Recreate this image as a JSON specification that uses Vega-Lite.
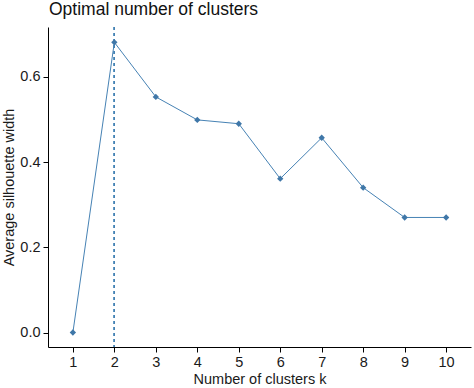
{
  "$schema": "https://vega.github.io/schema/vega-lite/v6.json",
  "width": 423,
  "height": 320,
  "autosize": {"type": "none"},
  "padding": {"left": 48, "top": 27, "right": 3, "bottom": 41},
  "background": "white",
  "title": {
    "text": "Optimal number of clusters",
    "anchor": "start",
    "frame": "group",
    "font": "Liberation Sans",
    "fontSize": 17.5,
    "fontWeight": "normal",
    "color": "#111111",
    "baseline": "alphabetic",
    "offset": -6,
    "dx": 1
  },
  "data": {
    "values": [
      {"k": 1, "s": 0.0},
      {"k": 2, "s": 0.681},
      {"k": 3, "s": 0.553},
      {"k": 4, "s": 0.499},
      {"k": 5, "s": 0.490},
      {"k": 6, "s": 0.361},
      {"k": 7, "s": 0.457},
      {"k": 8, "s": 0.340},
      {"k": 9, "s": 0.270},
      {"k": 10, "s": 0.270}
    ]
  },
  "encoding": {
    "x": {
      "field": "k",
      "type": "quantitative",
      "title": "Number of clusters k",
      "scale": {"domain": [0.4, 10.6], "nice": false, "zero": false},
      "axis": {"values": [1, 2, 3, 4, 5, 6, 7, 8, 9, 10], "format": "d", "titlePadding": 4}
    },
    "y": {
      "field": "s",
      "type": "quantitative",
      "title": "Average silhouette width",
      "scale": {"domain": [-0.034, 0.717], "nice": false, "zero": false},
      "axis": {"values": [0, 0.2, 0.4, 0.6], "format": ".1f", "titlePadding": 3}
    }
  },
  "layer": [
    {
      "mark": {"type": "rule", "color": "#4682B4", "strokeDash": [3, 3], "strokeWidth": 1},
      "encoding": {"x": {"datum": 2, "type": "quantitative"}, "y": null}
    },
    {
      "mark": {"type": "line", "color": "#4682B4", "strokeWidth": 1}
    },
    {
      "mark": {"type": "point", "shape": "diamond", "filled": true, "opacity": 1, "color": "#3F77A8", "size": 40}
    }
  ],
  "config": {
    "view": {"stroke": null},
    "axis": {
      "grid": false,
      "domainColor": "#000000",
      "domainWidth": 1,
      "tickColor": "#000000",
      "tickSize": 5,
      "tickWidth": 1,
      "labelFont": "Liberation Sans",
      "labelFontSize": 14.5,
      "labelColor": "#1a1a1a",
      "titleFont": "Liberation Sans",
      "titleFontSize": 14.5,
      "titleFontWeight": "normal",
      "titleColor": "#1a1a1a",
      "labelPadding": 3
    }
  }
}
